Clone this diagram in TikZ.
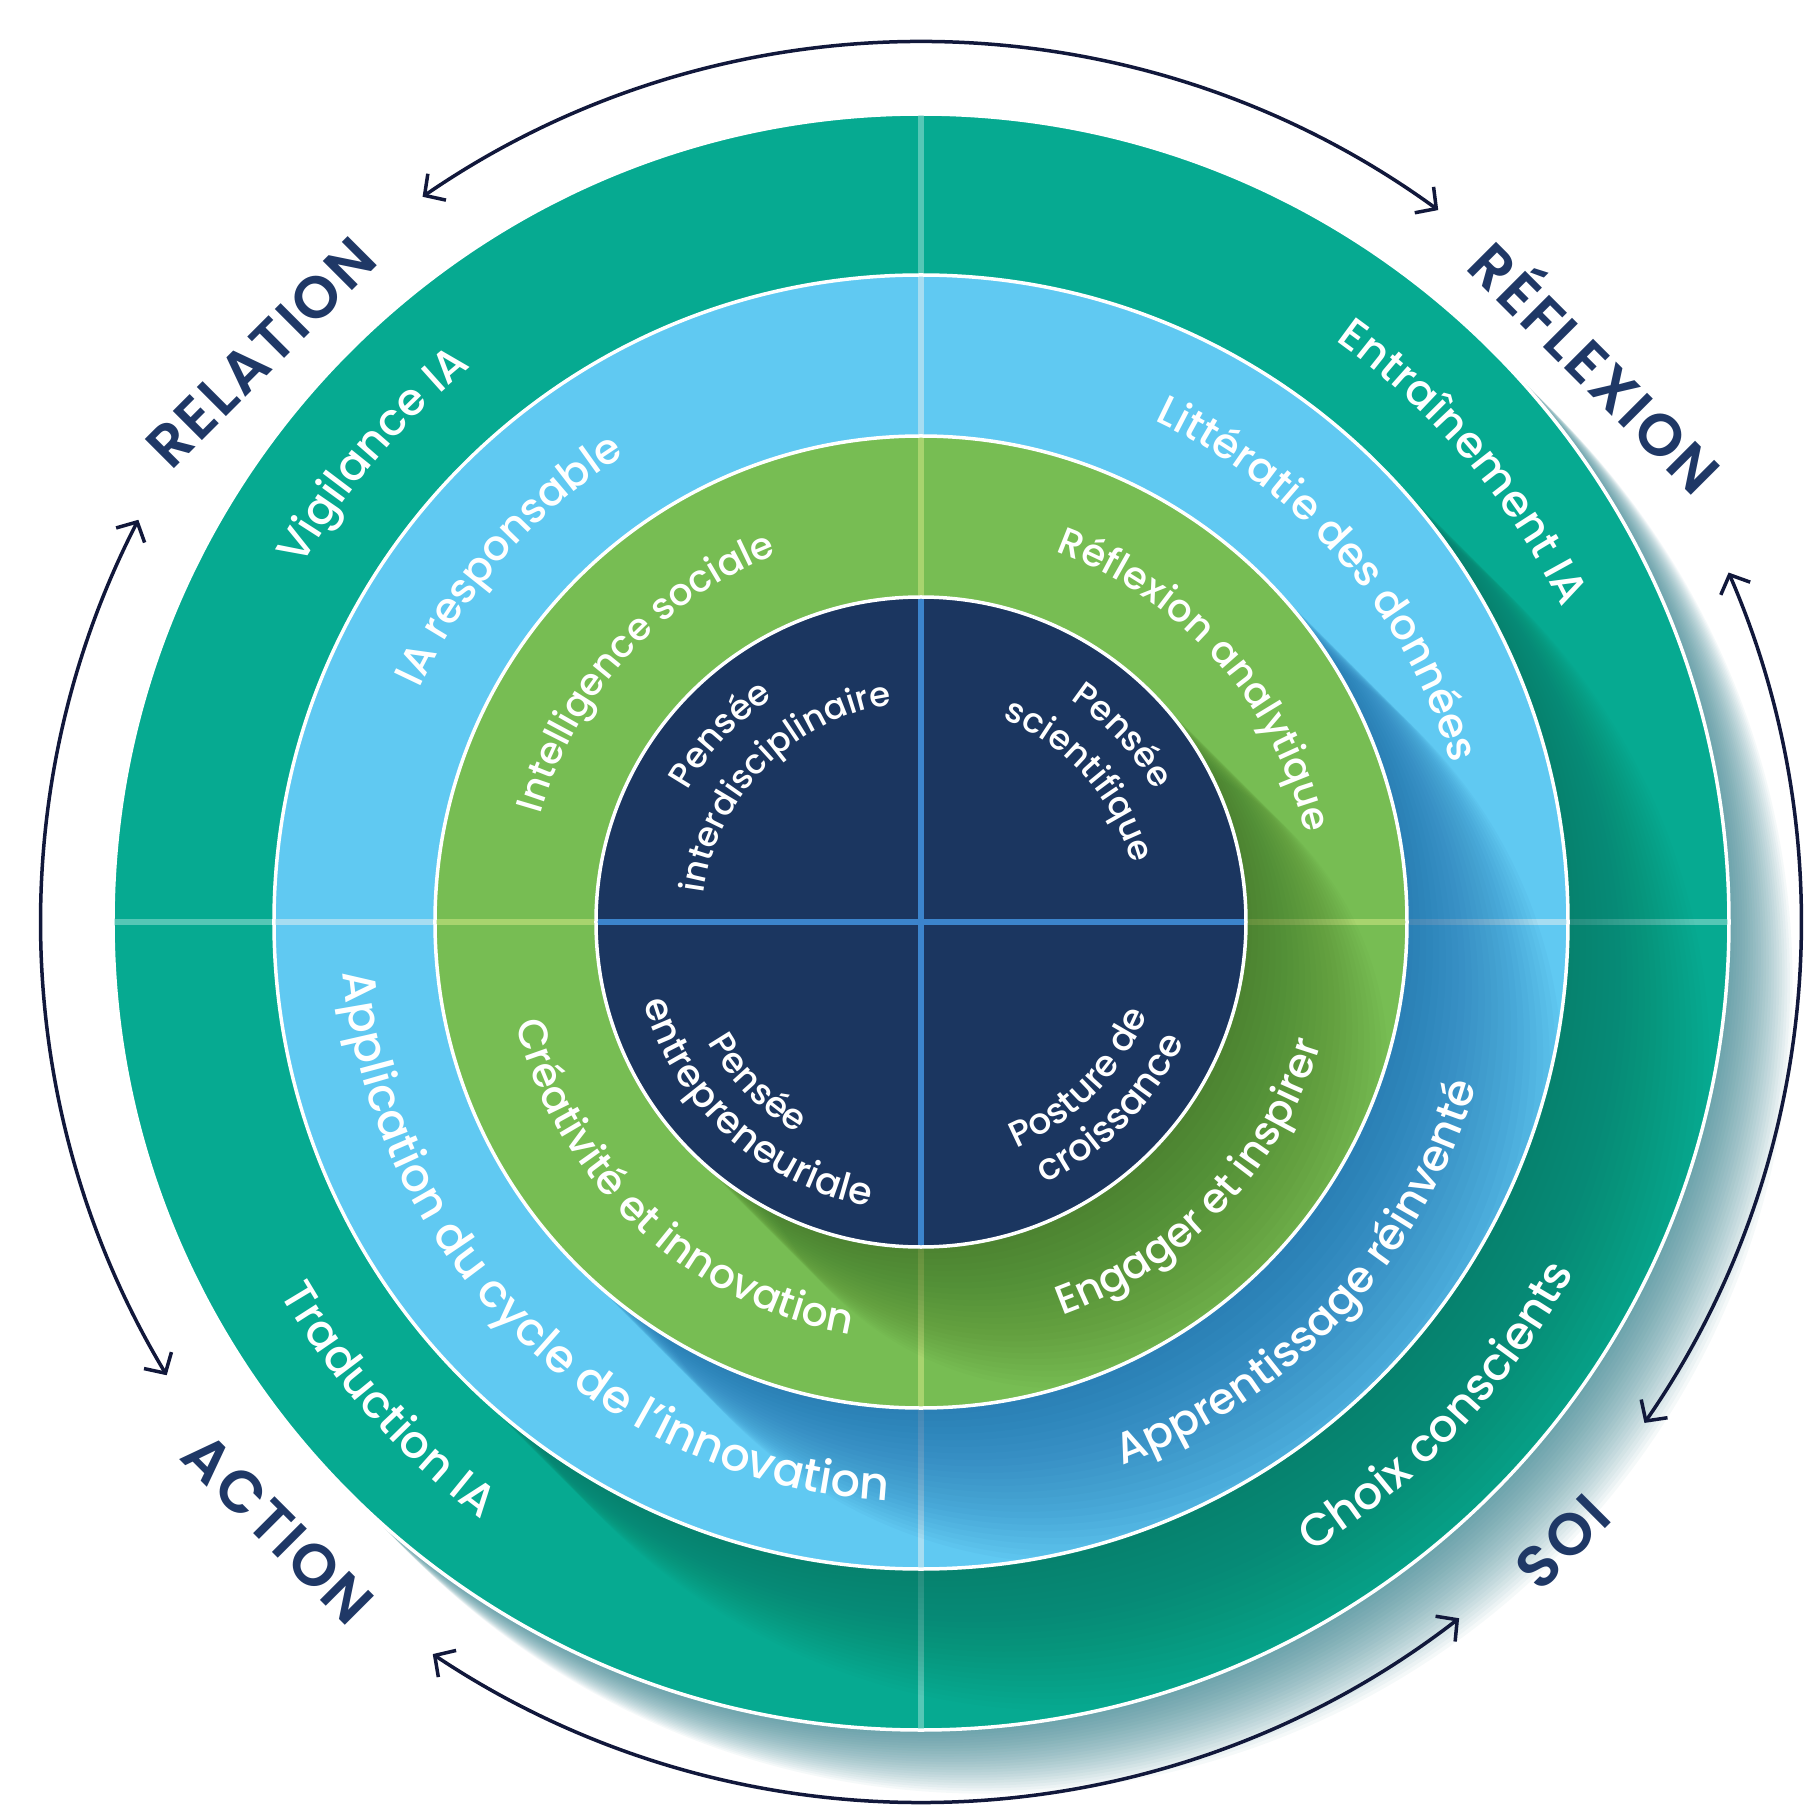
\documentclass[tikz,border=0pt]{standalone}
\usepackage{fontspec}
\setmainfont{Poppins}[UprightFont=* Medium]
\newfontfamily\semifont{Poppins}[UprightFont=* SemiBold]
\usetikzlibrary{decorations.text,arrows.meta}

\definecolor{tealc}{HTML}{06AA91}
\definecolor{bluec}{HTML}{60C9F2}
\definecolor{greenc}{HTML}{77BD53}
\definecolor{navyc}{HTML}{1B3660}
\definecolor{teall}{HTML}{55C7B6}
\definecolor{bluel}{HTML}{A6DDF2}
\definecolor{greenl}{HTML}{A8D46E}
\definecolor{navyl}{HTML}{3C84CC}
\definecolor{tealsh}{HTML}{0B6B5D}
\definecolor{bluesh}{HTML}{165F9E}
\definecolor{greensh}{HTML}{2F5A1C}
\definecolor{bgsh}{HTML}{2B7E8B}
\definecolor{labelc}{HTML}{1F3866}
\definecolor{arrowc}{HTML}{11183B}

% long shadow: caster radius, clip radius, colour, length, opacity
\newcommand{\lshadow}[5]{%
  \begin{scope}
    \clip (0,0) circle[radius=#2pt];
    \foreach \k in {1,...,24}{%
      \fill[#3,opacity=#5] ({\k*#4*0.7071/24},{-\k*#4*0.7071/24}) circle[radius=#1pt];}
  \end{scope}}

% text centred on an arc, read clockwise (upper half): radius, centre angle, size, text
\newcommand{\toptext}[4]{%
  \path[decorate,decoration={text along path,text align=center,
      text={|\fontsize{#3}{#3}\selectfont\color{white}|#4}}]
    (#2+70:#1pt) arc[start angle=#2+70,end angle=#2-70,radius=#1pt];}
% text centred on an arc, read anticlockwise (lower half)
\newcommand{\bottext}[4]{%
  \path[decorate,decoration={text along path,text align=center,
      text={|\fontsize{#3}{#3}\selectfont\color{white}|#4}}]
    (#2-70:#1pt) arc[start angle=#2-70,end angle=#2+70,radius=#1pt];}

\tikzset{
  cyc/.style={draw=arrowc,line width=3.5pt,
    arrows={Straight Barb[length=15pt,width=32pt]-Straight Barb[length=15pt,width=32pt]}},
  lbl/.style={font=\semifont\addfontfeature{LetterSpace=4}\fontsize{59}{64}\selectfont,
    text=labelc,inner sep=0pt,text height=41pt,text depth=0pt},
  divline/.style={line width=6pt}
}

\begin{document}
\begin{tikzpicture}[x=1pt,y=1pt]
\useasboundingbox (-921,-896) rectangle (883,922);
\fill[white] (-921,-896) rectangle (883,922);

% shadow of the whole disc on the page
\lshadow{808}{3000}{bgsh}{90}{0.045}

% outer teal ring
\fill[tealc] (0,0) circle[radius=808pt];
\draw[teall,divline] (-808,0) -- (808,0) (0,-808) -- (0,808);
\lshadow{647}{808}{tealsh}{200}{0.033}

% blue ring
\fill[bluec] (0,0) circle[radius=647pt];
\draw[bluel,divline] (-647,0) -- (647,0) (0,-647) -- (0,647);
\lshadow{486}{647}{bluesh}{220}{0.038}

% green ring
\fill[greenc] (0,0) circle[radius=486pt];
\draw[greenl,divline] (-486,0) -- (486,0) (0,-486) -- (0,486);
\lshadow{325}{486}{greensh}{200}{0.027}

% navy core
\fill[navyc] (0,0) circle[radius=325pt];
\draw[navyl,divline] (-325,0) -- (325,0) (0,-325) -- (0,325);

% white borders
\foreach \r in {325,486,647,808}{\draw[white,line width=3.5pt] (0,0) circle[radius=\r pt];}

% teal ring texts
\toptext{714}{139.6}{44.5}{Vigilance IA}
\toptext{714}{40.3}{44}{Entraînement IA}
\bottext{741}{221.9}{45.5}{Traduction IA}
\bottext{741}{316.8}{45.5}{Choix conscients}

% blue ring texts
\toptext{553}{138.7}{42}{IA responsable}
\toptext{553}{40.8}{42}{Littératie des données}
\bottext{580}{225.9}{46}{Application du cycle de l’innovation}
\bottext{579}{317}{43.5}{Apprentissage réinventé}

% green ring texts
\toptext{395}{137.8}{37.5}{Intelligence sociale}
\toptext{394}{41.5}{38.5}{Réflexion analytique}
\bottext{418}{227.2}{41}{Créativité et innovation}
\bottext{418}{316.4}{41}{Engager et inspirer}

% core texts
\toptext{268}{137}{35}{Pensée}
\toptext{219}{135}{34}{interdisciplinaire}
\toptext{268}{42.8}{34.5}{Pensée}
\toptext{219}{41.7}{34.5}{scientifique}
\bottext{245}{224.6}{35.5}{Pensée}
\bottext{289}{227.9}{38}{entrepreneuriale}
\bottext{245}{315.3}{36}{Posture de}
\bottext{289}{315.5}{37}{croissance}

% cycle arrows
\draw[cyc] (124.5:880pt) arc[start angle=124.5,end angle=54,radius=880pt];
\draw[cyc] (152.8:880pt) arc[start angle=152.8,end angle=211,radius=880pt];
\draw[cyc] (236.3:880pt) arc[start angle=236.3,end angle=307.7,radius=880pt];
\draw[cyc] (325.3:880pt) arc[start angle=325.3,end angle=383.4,radius=880pt];

% quadrant labels
\node[lbl,rotate=45] (relation) at (-660,569) {RELATION};
\node[lbl,rotate=-45] (reflexion) at (673,553) {RÉFLEXION};
\node[lbl,rotate=-45] (action) at (-643,-607) {ACTION};
\node[lbl,rotate=45] (soi) at (642,-620) {SOI};
\end{tikzpicture}
\end{document}
